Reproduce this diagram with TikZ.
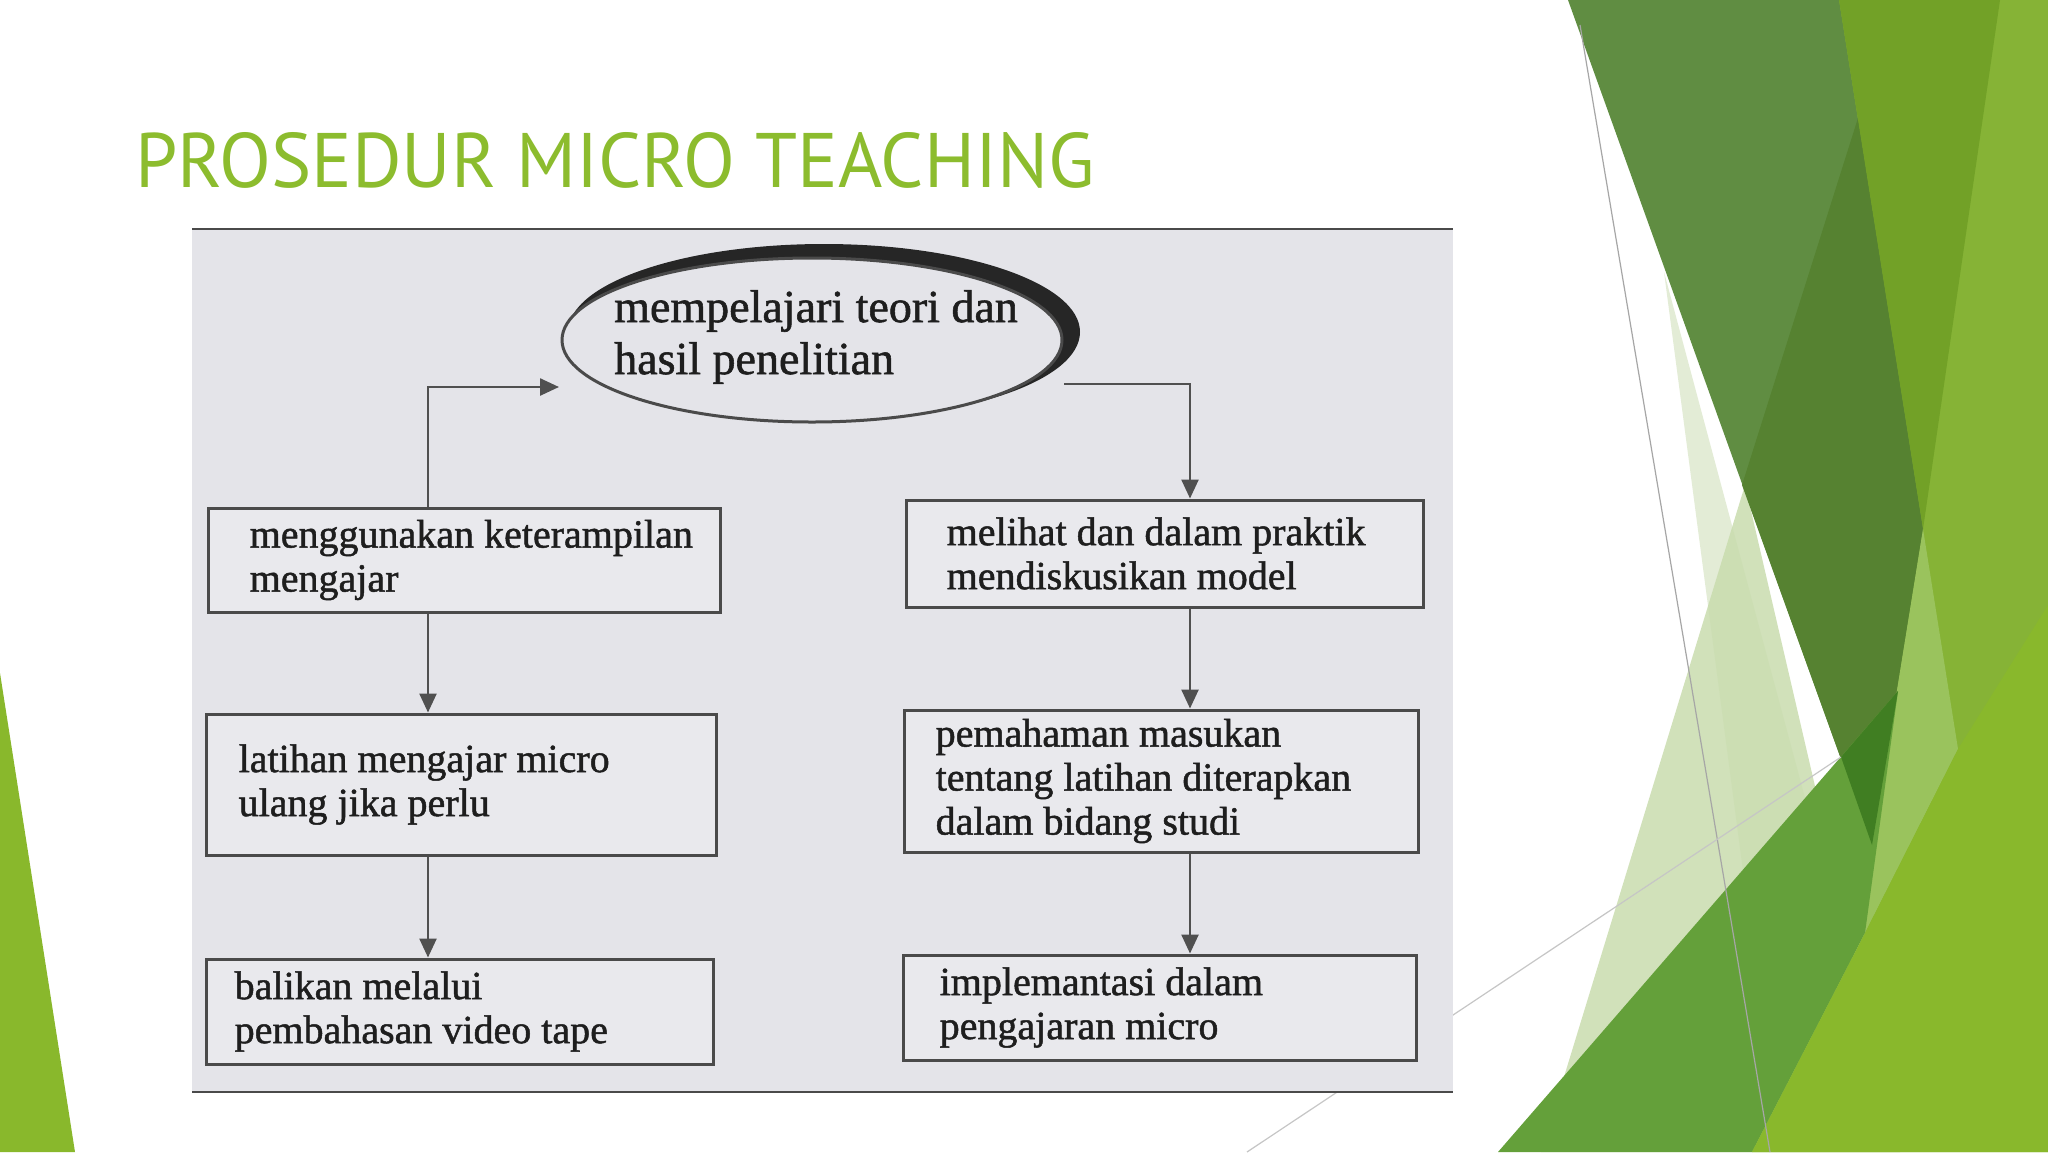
\documentclass[tikz,border=0pt]{standalone}
\usepackage{fontspec}
\setmainfont{Liberation Serif}[FakeBold=1]
\newfontfamily\scanfont{Liberation Serif}[FakeBold=1.2]
\newfontfamily\titlefont{PT Sans}
\usetikzlibrary{arrows.meta}
\definecolor{titlegreen}{HTML}{8CBC2E}
\definecolor{panel}{HTML}{E4E4E9}
\definecolor{boxfill}{HTML}{E9E9ED}
\definecolor{boxline}{HTML}{4A4A4A}
\definecolor{linkc}{HTML}{505050}
\definecolor{ink}{HTML}{1E1E1E}
\definecolor{palea}{HTML}{E3ECD6}
\definecolor{paleb}{HTML}{C9DCAE}
\definecolor{dkgreen}{HTML}{608D42}
\definecolor{dkgreenb}{HTML}{568231}
\definecolor{midgreen}{HTML}{72A127}
\definecolor{ltgreen}{HTML}{86B336}
\definecolor{softgreen}{HTML}{9AC35D}
\definecolor{bandgreen}{HTML}{64A03A}
\definecolor{deepgreen}{HTML}{407E22}
\definecolor{lime}{HTML}{89B82C}

\begin{document}
\begin{tikzpicture}[x=1pt,y=-1pt,
  box/.style={draw=boxline,line width=3pt,fill=boxfill,inner sep=0pt},
  txt/.style={anchor=west,inner sep=0pt,align=left,text=ink,font=\scanfont\fontsize{40}{44}\selectfont},
  link/.style={draw=linkc,line width=2.5pt,-{Triangle[width=17pt,length=19pt]}},
  hair/.style={draw=gray!70,line width=1.2pt}]
  \useasboundingbox (0,0) rectangle (2048,1152);
  \fill[white] (0,0) rectangle (2048,1152);
  % facets
  \fill[palea] (1664,272) -- (1900,1152) -- (1780,1152) -- cycle;
  \fill[paleb,opacity=.85] (1745,485) -- (1541,1152) -- (1900,1152) -- cycle;
  \fill[ltgreen] (1839,0) -- (2048,0) -- (2048,1152) -- (1752,1152) -- (1865,933) -- (1872,845) -- cycle;
  \fill[dkgreen] (1568,0) -- (1839,0) -- (1923,529) -- (1872,845) -- cycle;
  \fill[dkgreenb] (1742,485) -- (1858,118) -- (1923,529) -- (1872,845) -- cycle;
  \fill[midgreen] (1839,0) -- (2000,0) -- (1923,529) -- cycle;
  \fill[softgreen] (1923,529) -- (1958,749) -- (1865,933) -- (1872,845) -- cycle;
  \fill[bandgreen] (1498,1152) -- (1898,691) -- (1865,933) -- (1752,1152) -- cycle;
  \fill[deepgreen] (1841,757) -- (1898,691) -- (1872,845) -- cycle;
  \fill[lime] (2048,605) -- (2048,1152) -- (1752,1152) -- (1865,933) -- (1958,749) -- cycle;
  \fill[lime] (0,673) -- (75,1152) -- (0,1152) -- cycle;
  \draw[hair] (1580,25) -- (1770,1152);
  \draw[hair,draw=gray!45] (1247,1152) -- (1841,757);
  % title
  \node[anchor=base west,inner sep=0pt,text=titlegreen] (title) at (135,187)
    {\resizebox{959pt}{55pt}{\titlefont PROSEDUR MICRO TEACHING}};
  % scanned figure
  \fill[panel] (192,229) rectangle (1453,1092);
  \draw[boxline,line width=2pt] (192,229) -- (1453,229);
  \draw[boxline,line width=2pt] (192,1092) -- (1453,1092);
  \fill[black!85] (824,332) ellipse [x radius=256pt,y radius=88pt];
  \draw[boxline,line width=3pt,fill=panel] (812,340) ellipse [x radius=250pt,y radius=82pt];
  \node[inner sep=0pt,align=left,text=ink,font=\scanfont\fontsize{46}{52}\selectfont] (teori) at (816,337)
    {mempelajari teori dan\\hasil penelitian};
  \node[box,minimum width=512pt,minimum height=104pt] (use) at (464,560) {};
  \node[box,minimum width=510pt,minimum height=141pt] (latihan) at (461,784.5) {};
  \node[box,minimum width=507pt,minimum height=105pt] (balikan) at (459.5,1011.5) {};
  \node[box,minimum width=517pt,minimum height=107pt] (melihat) at (1164.5,553.5) {};
  \node[box,minimum width=514pt,minimum height=142pt] (paham) at (1161,781) {};
  \node[box,minimum width=513pt,minimum height=105pt] (impl) at (1159.5,1007.5) {};
  \node[txt] (useT) at ([xshift=43pt]use.west) {menggunakan keterampilan\\mengajar};
  \node[txt] (latihanT) at ([xshift=34pt]latihan.west) {latihan mengajar micro\\ulang jika perlu};
  \node[txt] (balikanT) at ([xshift=30pt]balikan.west) {balikan melalui\\pembahasan video tape};
  \node[txt] (melihatT) at ([xshift=42pt]melihat.west) {melihat dan dalam praktik\\mendiskusikan model};
  \node[txt] (pahamT) at ([xshift=33pt]paham.west) {pemahaman masukan\\tentang latihan diterapkan\\dalam bidang studi};
  \node[txt] (implT) at ([xshift=38pt]impl.west) {implemantasi dalam\\pengajaran micro};
  \coordinate (lspine) at (428,0);
  \coordinate (rspine) at (1190,0);
  \coordinate (inL) at (559,387);
  \coordinate (outR) at (1064,384);
  \draw[link] (use.north -| lspine) |- (inL);
  \draw[link] (outR) -| (melihat.north -| rspine);
  \draw[link] (use.south -| lspine) -- (latihan.north -| lspine);
  \draw[link] (latihan.south -| lspine) -- (balikan.north -| lspine);
  \draw[link] (melihat.south -| rspine) -- (paham.north -| rspine);
  \draw[link] (paham.south -| rspine) -- (impl.north -| rspine);
\end{tikzpicture}
\end{document}
